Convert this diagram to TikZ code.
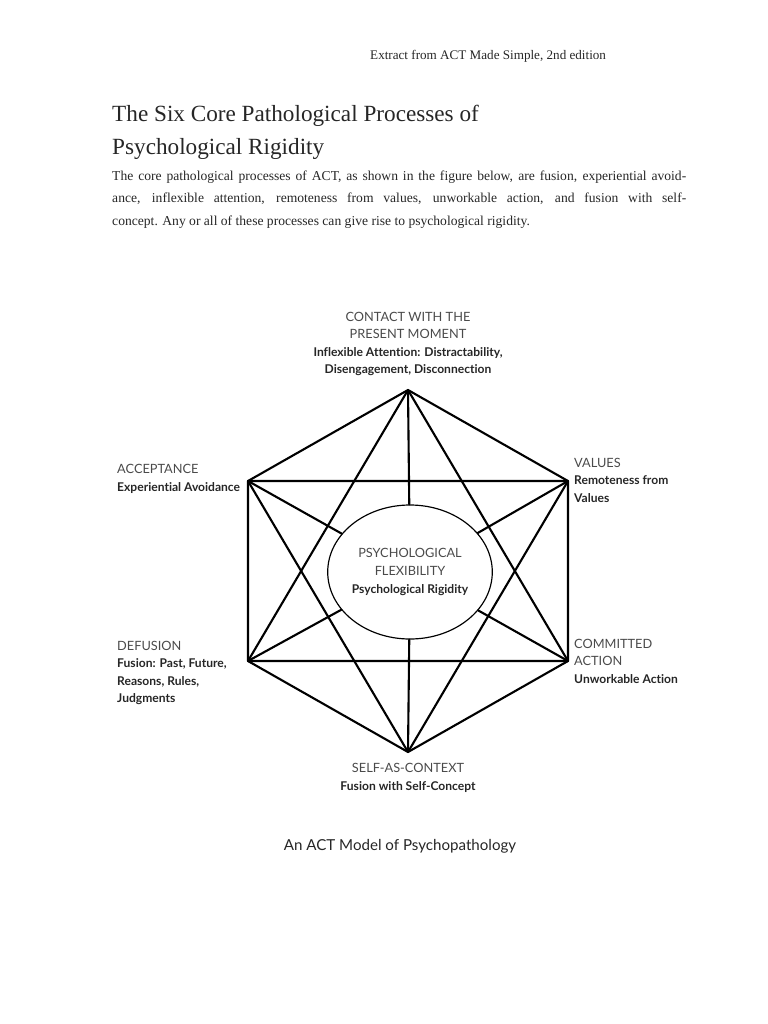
\documentclass[tikz,border=0pt]{standalone}
\usepackage{fontspec}
\setmainfont{Liberation Serif}
\newfontfamily\actfont[Ligatures=NoCommon]{Lato}
\usetikzlibrary{shapes.geometric}
\usetikzlibrary{calc}

\definecolor{inkgray}{HTML}{262626}
\definecolor{capgray}{HTML}{4A4A4A}
\newcommand{\pname}[1]{{\color{capgray}\fontsize{10.9}{15}\selectfont#1}}

\tikzset{
	hexline/.style={line width=1.8pt,line join=round,line cap=round},
	core/.style={font=\actfont\fontsize{10.3}{15}\selectfont,inner sep=0pt,text=inkgray},
}

\begin{document}
\begin{tikzpicture}[x=0.03cm,y=-0.03cm]
	\useasboundingbox (0,0) rectangle (768,1024);
	% page text
	\draw (370,56) node (src) [anchor=west,inner sep=0pt,text=inkgray,font=\fontsize{11.2}{12}\selectfont] {Extract from ACT Made Simple, 2nd edition};
	\draw (112,105) node (title) [anchor=north west,inner sep=0pt,align=left,text=inkgray,font=\fontsize{19.8}{28}\selectfont] {The Six Core Pathological Processes of\\Psychological Rigidity};
	\draw (112,171) node (intro) [anchor=north west,inner sep=0pt,text width=17.22cm,align=justify,text=inkgray,font=\fontsize{11.6}{18.9}\selectfont] {The core pathological processes of ACT, as shown in the figure below, are fusion, experiential avoid-\linebreak ance, inflexible attention, remoteness from values, unworkable action, and fusion with self-\linebreak concept. Any or all of these processes can give rise to psychological rigidity.};

	% hexagon corners
	\coordinate (cm) at (408,390);
	\coordinate (ac) at (248,481);
	\coordinate (va) at (568,481);
	\coordinate (de) at (248,661);
	\coordinate (ca) at (568,661);
	\coordinate (sc) at (408,752);

	\draw (410,572) node (flex) [draw,shape=ellipse,line width=1pt,minimum width=4.56cm,minimum height=4.02cm,core,align=center] {\pname{PSYCHOLOGICAL}\\\pname{FLEXIBILITY}\\\textbf{Psychological Rigidity}};

	\draw[hexline] (cm) -- (va) -- (ca) -- (sc) -- (de) -- (ac) -- cycle;
	\draw[hexline] (cm) -- (de) -- (ca) -- cycle;
	\draw[hexline] (sc) -- (ac) -- (va) -- cycle;
	\foreach \v in {cm,ac,va,de,ca,sc}
		\draw[hexline] (\v) -- (flex);

	% the six processes
	\node (cmlab) [core,align=center] at (408,344) {\pname{CONTACT WITH THE}\\\pname{PRESENT MOMENT}\\\textbf{Inflexible Attention: Distractability,}\\\textbf{Disengagement, Disconnection}};
	\node (aclab) [core,align=left,anchor=west] at (117,479) {\pname{ACCEPTANCE}\\\textbf{Experiential Avoidance}};
	\node (valab) [core,align=left,anchor=west] at (574,480) {\pname{VALUES}\\\textbf{Remoteness from}\\\textbf{Values}};
	\node (delab) [core,align=left,anchor=west] at (117,673) {\pname{DEFUSION}\\\textbf{Fusion: Past, Future,}\\\textbf{Reasons, Rules,}\\\textbf{Judgments}};
	\node (calab) [core,align=left,anchor=west] at (574,661) {\pname{COMMITTED}\\\pname{ACTION}\\\textbf{Unworkable Action}};
	\node (sclab) [core,align=center] at (408,778) {\pname{SELF-AS-CONTEXT}\\\textbf{Fusion with Self-Concept}};

	\node (caption) [inner sep=0pt,text=inkgray,font=\actfont\fontsize{12.9}{14}\selectfont] at (400,846) {An ACT Model of Psychopathology};
\end{tikzpicture}
\end{document}
